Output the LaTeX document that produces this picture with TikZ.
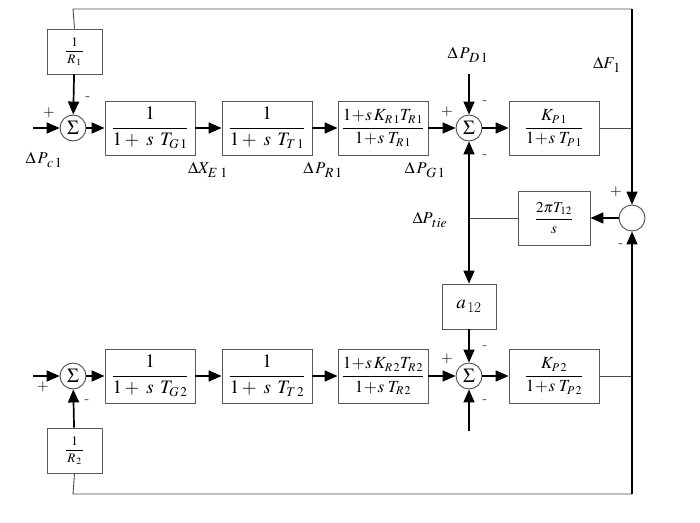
\documentclass[tikz,border=0pt]{standalone}
\usepackage{amsmath}
\usepackage{mathptmx}
\usetikzlibrary{arrows.meta}
\DeclareMathSizes{16.5}{16.5}{14}{11}
\DeclareMathSizes{19}{19}{13.3}{9.5}
\DeclareMathSizes{17}{17}{11.9}{8.5}
\begin{document}
\begin{tikzpicture}[x=1pt,y=-1pt,
  blk/.style={draw=black!65,line width=0.9pt,inner sep=0pt,minimum width=90pt,minimum height=54pt,font=\fontsize{19}{21}\selectfont},
  smallblk/.style={draw=black!65,line width=0.9pt,inner sep=0pt,minimum width=55pt,minimum height=45pt},
  sumnode/.style={draw=black!70,circle,line width=0.9pt,inner sep=0pt,minimum size=26pt,font=\fontsize{20}{22}\selectfont},
  sig/.style={-{Triangle[length=13pt,width=11pt]},line width=1.7pt,black},
  thin/.style={line width=0.9pt,black!70},
  lab/.style={font=\fontsize{16.5}{18}\selectfont,inner sep=0pt},
  sgn/.style={font=\fontsize{15}{16}\selectfont,inner sep=0pt}]
\useasboundingbox (0,0) rectangle (700,522);
% upper area
\node[sumnode] (s1) at (73,128) {$\Sigma$};
\node[blk] (g1) at (150,128) {$\dfrac{1}{1+\;s\;\,T_{G\,1}}$};
\node[blk] (t1) at (267,128) {$\dfrac{1}{1+\;s\;\,T_{T\,1}}$};
\node[blk,font=\fontsize{17}{19}\selectfont] (r1) at (383,128) {$\dfrac{1\!+\!s\,K_{R\,1}T_{R\,1}}{1\!+\!s\;T_{R\,1}}$};
\node[sumnode] (s2) at (469,128) {$\Sigma$};
\node[blk,font=\fontsize{17}{19}\selectfont] (p1) at (554,128) {$\dfrac{K_{P\,1}}{1\!+\!s\;T_{P\,1}}$};
\node[smallblk,font=\fontsize{13}{14}\selectfont] (fb1) at (74.5,51.5) {$\dfrac{1}{\,R_{\,1}\,}$};
\node[sumnode] (c) at (632,218) {};
\node[draw=black!65,line width=0.9pt,inner sep=0pt,minimum width=72pt,minimum height=54pt,font=\fontsize{15}{17}\selectfont] (tie) at (554,218) {$\dfrac{2\pi T_{12}}{s}$};
\node[smallblk,minimum width=54pt,font=\fontsize{19}{21}\selectfont] (a12) at (469,306.5) {$a_{\,\mbox{\fontsize{15}{16}\selectfont 12}}$};
% lower area
\node[sumnode] (s3) at (73,376) {$\Sigma$};
\node[blk] (g2) at (150,376) {$\dfrac{1}{1+\;s\;\,T_{G\,2}}$};
\node[blk] (t2) at (267,376) {$\dfrac{1}{1+\;s\;\,T_{T\,2}}$};
\node[blk,font=\fontsize{17}{19}\selectfont] (r2) at (383,376) {$\dfrac{1\!+\!s\,K_{R\,2}T_{R\,2}}{1\!+\!s\;T_{R\,2}}$};
\node[sumnode] (s4) at (469,376) {$\Sigma$};
\node[blk,font=\fontsize{17}{19}\selectfont] (p2) at (554,376) {$\dfrac{K_{P\,2}}{1\!+\!s\;T_{P\,2}}$};
\node[smallblk,font=\fontsize{13}{14}\selectfont] (fb2) at (74.5,450.5) {$\dfrac{1}{\,R_{\,2}\,}$};
% free ends
\coordinate (in1) at (33,128);
\coordinate (in2) at (33,376);
\coordinate (pd1) at (469,74);
\coordinate (pd2) at (469,431);
\coordinate (j) at (469,218);
\coordinate (tl) at (73,9);
\coordinate (tr) at (632,9);
\coordinate (bl) at (73,494);
\coordinate (br) at (632,494);
\coordinate (o1) at (632,128);
\coordinate (o2) at (632,376);
% upper connectors
\draw[sig] (in1) -- (s1);
\draw[sig] (s1) -- (g1);
\draw[sig] (g1) -- (t1);
\draw[sig] (t1) -- (r1);
\draw[sig] (r1) -- (s2);
\draw[sig] (s2) -- (p1);
\draw[sig] (fb1) -- (s1);
\draw[sig] (pd1) -- (s2);
\draw[thin] (p1) -- (o1);
\draw[thin] (fb1.north) -- (tl) -- (tr);
\draw[sig] (tr) -- (c);
\draw[sig] (c) -- (tie);
\draw[thin] (tie) -- (j);
\draw[sig] (j) -- (s2);
\draw[sig] (j) -- (a12);
\draw[sig] (a12) -- (s4);
% lower connectors
\draw[sig] (in2) -- (s3);
\draw[sig] (s3) -- (g2);
\draw[sig] (g2) -- (t2);
\draw[sig] (t2) -- (r2);
\draw[sig] (r2) -- (s4);
\draw[sig] (s4) -- (p2);
\draw[sig] (fb2) -- (s3);
\draw[sig] (pd2) -- (s4);
\draw[thin] (p2) -- (o2);
\draw[thin] (fb2.south) -- (bl) -- (br);
\draw[sig] (br) -- (c);
% labels
\node[lab] (lpc) at (44,160) {$\Delta\,P_{\,c\,1}$};
\node[lab] (lxe) at (208,170) {$\Delta X_{E\;1}$};
\node[lab] (lpr) at (323,170) {$\Delta\,P_{\,R\,1}$};
\node[lab] (lpg) at (425,170) {$\Delta\,P_{\,G\,1}$};
\node[lab] (lpd) at (468,55) {$\Delta\,P_{\,D\,1}$};
\node[lab] (lf) at (607,65) {$\Delta F_{\,1}$};
\node[lab] (lpt) at (430,220) {$\Delta P_{\,tie}$};
% signs
\node[sgn] (p1a) at (49,113) {$+$};
\node[sgn] (m1a) at (88,99) {-};
\node[sgn] (p2a) at (447,112) {$+$};
\node[sgn] (m2a) at (485,103) {-};
\node[sgn] (m2b) at (485,157) {-};
\node[sgn] (pc) at (616,192) {$+$};
\node[sgn] (mc) at (621,246) {-};
\node[sgn] (p3a) at (43,387) {$+$};
\node[sgn] (m3a) at (87,402) {-};
\node[sgn] (p4a) at (447,359) {$+$};
\node[sgn] (m4a) at (485,348) {-};
\node[sgn] (m4b) at (485,402) {-};
\end{tikzpicture}
\end{document}
